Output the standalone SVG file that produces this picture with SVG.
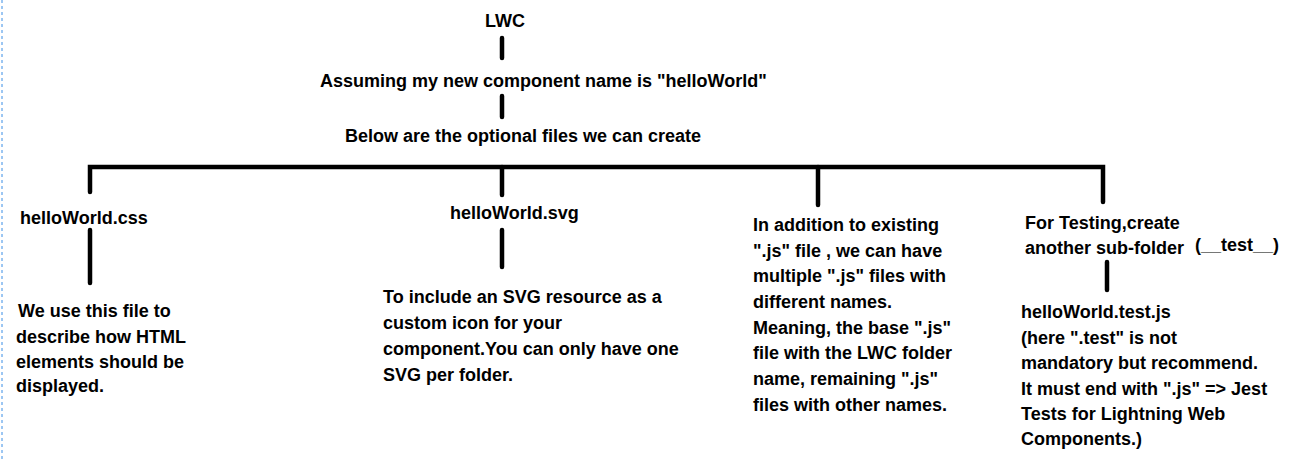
<svg xmlns="http://www.w3.org/2000/svg" width="1295" height="460" viewBox="0 0 1295 460">
<style>
text{font-family:"Liberation Sans",Arial,sans-serif;font-weight:bold;font-size:18px;fill:#000}
.ln{stroke:#000;stroke-width:4.5;stroke-linecap:round;fill:none}
</style>
<rect width="1295" height="460" fill="#fff"/>
<line x1="2" y1="0" x2="2" y2="460" stroke="#3a8ee6" stroke-width="1" stroke-dasharray="3,3"/>
<g id="connectors">
<line class="ln" x1="502" y1="38" x2="502" y2="58"/>
<line class="ln" x1="502" y1="96" x2="502" y2="117"/>
<path class="ln" d="M90 192 V167 H1103 V202"/>
<line class="ln" x1="502" y1="167" x2="502" y2="195"/>
<line class="ln" x1="818" y1="167" x2="818" y2="205"/>
<line class="ln" x1="90" y1="230" x2="90" y2="283"/>
<line class="ln" x1="502" y1="230" x2="502" y2="267"/>
<line class="ln" x1="1107" y1="262" x2="1107" y2="290"/>
</g>
<g id="lwc"><text x="505" y="27" text-anchor="middle">LWC</text></g>
<g id="assume"><text x="320" y="87">Assuming my new component name is "helloWorld"</text></g>
<g id="below"><text x="345" y="142">Below are the optional files we can create</text></g>
<g id="css"><text x="20" y="224">helloWorld.css</text>
<text x="18" y="317">We use this file to</text><text x="16" y="343">describe how HTML</text><text x="16" y="368">elements should be</text><text x="16" y="392">displayed.</text></g>
<g id="svg"><text x="450" y="219">helloWorld.svg</text>
<text x="383" y="303">To include an SVG resource as a</text><text x="383" y="329">custom icon for your</text><text x="383" y="355">component.You can only have one</text><text x="383" y="381">SVG per folder.</text></g>
<g id="js"><text x="753" y="231">In addition to existing</text><text x="753" y="257">".js" file , we can have</text><text x="753" y="282">multiple ".js" files with</text><text x="753" y="308">different names.</text><text x="753" y="334">Meaning, the base ".js"</text><text x="753" y="359">file with the LWC folder</text><text x="753" y="385">name, remaining ".js"</text><text x="753" y="411">files with other names.</text></g>
<g id="test"><text x="1025" y="229">For Testing,create</text><text x="1025" y="254">another sub-folder</text><text x="1195" y="251">(__test__)</text>
<text x="1021" y="318">helloWorld.test.js</text><text x="1021" y="344">(here ".test" is not</text><text x="1021" y="369">mandatory but recommend.</text><text x="1021" y="395">It must end with ".js" =&gt; Jest</text><text x="1021" y="420">Tests for Lightning Web</text><text x="1021" y="445">Components.)</text></g>
</svg>
